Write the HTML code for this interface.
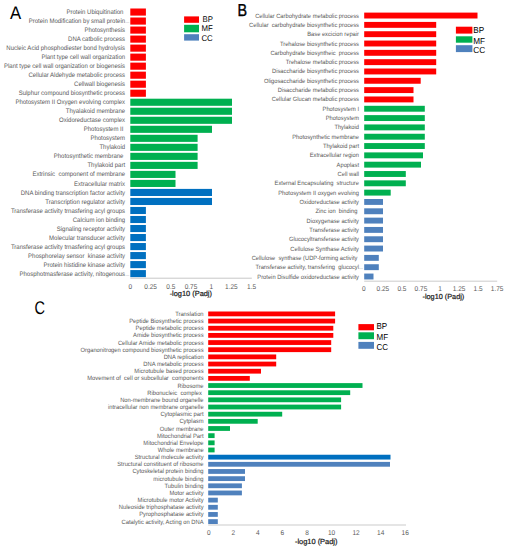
<!DOCTYPE html>
<html><head><meta charset="utf-8"><style>
html,body{margin:0;padding:0;background:#fff;}
body{width:506px;height:550px;overflow:hidden;}
svg{display:block;font-family:"Liberation Sans", sans-serif;text-rendering:geometricPrecision;}
text{white-space:pre;}
.t{}
</style></head><body>
<svg width="506" height="550" viewBox="0 0 506 550" xml:space="preserve">
<rect width="506" height="550" fill="#fff"/>
<rect x="130.30" y="8.50" width="15.60" height="7.10" fill="#FF0000"/>
<text transform="translate(125.10 14.13) scale(1 1.07)" font-size="6.0" text-anchor="end" fill="#595959"  class="t">Protein Ubiquitination </text>
<rect x="130.30" y="17.52" width="15.60" height="7.10" fill="#FF0000"/>
<text transform="translate(125.10 23.15) scale(1 1.07)" font-size="6.0" text-anchor="end" fill="#595959"  class="t">Protein Modification by small protein</text>
<text transform="translate(125.20 23.15) scale(1 1.07)" font-size="4.32" text-anchor="start" fill="#595959"  class="t">…</text>
<rect x="130.30" y="26.54" width="15.60" height="7.10" fill="#FF0000"/>
<text transform="translate(125.10 32.17) scale(1 1.07)" font-size="6.0" text-anchor="end" fill="#595959"  class="t">Photosynthesis</text>
<rect x="130.30" y="35.56" width="15.60" height="7.10" fill="#FF0000"/>
<text transform="translate(125.10 41.19) scale(1 1.07)" font-size="6.0" text-anchor="end" fill="#595959"  class="t">DNA catbolic process</text>
<rect x="130.30" y="44.58" width="15.60" height="7.10" fill="#FF0000"/>
<text transform="translate(125.10 50.21) scale(1 1.07)" font-size="6.0" text-anchor="end" fill="#595959"  class="t">Nucleic Acid phosphodiester bond hydrolysis</text>
<rect x="130.30" y="53.60" width="15.60" height="7.10" fill="#FF0000"/>
<text transform="translate(125.10 59.23) scale(1 1.07)" font-size="6.0" text-anchor="end" fill="#595959"  class="t">Plant type cell wall organization</text>
<rect x="130.30" y="62.62" width="15.60" height="7.10" fill="#FF0000"/>
<text transform="translate(125.10 68.25) scale(1 1.07)" font-size="6.0" text-anchor="end" fill="#595959"  class="t">Plant type cell wall organization or biogenesis</text>
<rect x="130.30" y="71.64" width="15.60" height="7.10" fill="#FF0000"/>
<text transform="translate(125.10 77.27) scale(1 1.07)" font-size="6.0" text-anchor="end" fill="#595959"  class="t">Cellular Aldehyde metabolic process</text>
<rect x="130.30" y="80.66" width="15.60" height="7.10" fill="#FF0000"/>
<text transform="translate(125.10 86.29) scale(1 1.07)" font-size="6.0" text-anchor="end" fill="#595959"  class="t">Cellwall biogenesis</text>
<rect x="130.30" y="89.68" width="15.60" height="7.10" fill="#FF0000"/>
<text transform="translate(125.10 95.31) scale(1 1.07)" font-size="6.0" text-anchor="end" fill="#595959"  class="t">Sulphur compound biosynthetic process</text>
<rect x="130.30" y="98.70" width="101.70" height="7.10" fill="#00B050"/>
<text transform="translate(125.10 104.33) scale(1 1.07)" font-size="6.0" text-anchor="end" fill="#595959"  class="t">Photosystem II Oxygen evolving complex</text>
<rect x="130.30" y="107.72" width="101.70" height="7.10" fill="#00B050"/>
<text transform="translate(125.10 113.35) scale(1 1.07)" font-size="6.0" text-anchor="end" fill="#595959"  class="t">Thyalakoid membrane</text>
<rect x="130.30" y="116.74" width="101.70" height="7.10" fill="#00B050"/>
<text transform="translate(125.10 122.37) scale(1 1.07)" font-size="6.0" text-anchor="end" fill="#595959"  class="t">Oxidoreductase complex</text>
<rect x="130.30" y="125.76" width="81.70" height="7.10" fill="#00B050"/>
<text transform="translate(125.10 131.39) scale(1 1.07)" font-size="6.0" text-anchor="end" fill="#595959"  class="t">Photosystem II </text>
<rect x="130.30" y="134.78" width="67.30" height="7.10" fill="#00B050"/>
<text transform="translate(125.10 140.41) scale(1 1.07)" font-size="6.0" text-anchor="end" fill="#595959"  class="t">Photosystem</text>
<rect x="130.30" y="143.80" width="67.30" height="7.10" fill="#00B050"/>
<text transform="translate(125.10 149.43) scale(1 1.07)" font-size="6.0" text-anchor="end" fill="#595959"  class="t">Thylakoid</text>
<rect x="130.30" y="152.82" width="67.30" height="7.10" fill="#00B050"/>
<text transform="translate(125.10 158.45) scale(1 1.07)" font-size="6.0" text-anchor="end" fill="#595959"  class="t">Photosynthetic membrane </text>
<rect x="130.30" y="161.84" width="67.30" height="7.10" fill="#00B050"/>
<text transform="translate(125.10 167.47) scale(1 1.07)" font-size="6.0" text-anchor="end" fill="#595959"  class="t">Thylakoid part</text>
<rect x="130.30" y="170.86" width="45.20" height="7.10" fill="#00B050"/>
<text transform="translate(125.10 176.49) scale(1 1.07)" font-size="6.0" text-anchor="end" fill="#595959"  class="t">Extrinsic  component of membrane</text>
<rect x="130.30" y="179.88" width="45.20" height="7.10" fill="#00B050"/>
<text transform="translate(125.10 185.51) scale(1 1.07)" font-size="6.0" text-anchor="end" fill="#595959"  class="t">Extracellular matrix</text>
<rect x="130.30" y="188.90" width="81.70" height="7.10" fill="#0070C0"/>
<text transform="translate(125.10 194.53) scale(1 1.07)" font-size="6.0" text-anchor="end" fill="#595959"  class="t">DNA binding transcription factor activity</text>
<rect x="130.30" y="197.92" width="81.70" height="7.10" fill="#0070C0"/>
<text transform="translate(125.10 203.55) scale(1 1.07)" font-size="6.0" text-anchor="end" fill="#595959"  class="t">Transcription regulator activity</text>
<rect x="130.30" y="206.94" width="15.60" height="7.10" fill="#0070C0"/>
<text transform="translate(125.10 212.57) scale(1 1.07)" font-size="6.0" text-anchor="end" fill="#595959"  class="t">Transferase activity trnasfering acyl groups</text>
<rect x="130.30" y="215.96" width="15.60" height="7.10" fill="#0070C0"/>
<text transform="translate(125.10 221.59) scale(1 1.07)" font-size="6.0" text-anchor="end" fill="#595959"  class="t">Calcium ion binding</text>
<rect x="130.30" y="224.98" width="15.60" height="7.10" fill="#0070C0"/>
<text transform="translate(125.10 230.61) scale(1 1.07)" font-size="6.0" text-anchor="end" fill="#595959"  class="t">Signaling receptor activity</text>
<rect x="130.30" y="234.00" width="15.60" height="7.10" fill="#0070C0"/>
<text transform="translate(125.10 239.63) scale(1 1.07)" font-size="6.0" text-anchor="end" fill="#595959"  class="t">Molecular transducer activity</text>
<rect x="130.30" y="243.02" width="15.60" height="7.10" fill="#0070C0"/>
<text transform="translate(125.10 248.65) scale(1 1.07)" font-size="6.0" text-anchor="end" fill="#595959"  class="t">Transferase activity trnasfering acyl groups</text>
<rect x="130.30" y="252.04" width="15.60" height="7.10" fill="#0070C0"/>
<text transform="translate(125.10 257.67) scale(1 1.07)" font-size="6.0" text-anchor="end" fill="#595959"  class="t">Phosphorelay sensor  kinase activity</text>
<rect x="130.30" y="261.06" width="15.60" height="7.10" fill="#0070C0"/>
<text transform="translate(125.10 266.69) scale(1 1.07)" font-size="6.0" text-anchor="end" fill="#595959"  class="t">Protein histidine kinase activity</text>
<rect x="130.30" y="270.08" width="15.60" height="7.10" fill="#0070C0"/>
<text transform="translate(125.10 275.71) scale(1 1.07)" font-size="6.0" text-anchor="end" fill="#595959"  class="t">Phosphotmasferase activity, nitogenous</text>
<text transform="translate(125.20 275.71) scale(1 1.07)" font-size="4.32" text-anchor="start" fill="#595959"  class="t">…</text>
<rect x="130.30" y="277.60" width="121.50" height="1.30" fill="#D4D4D4"/>
<text transform="translate(130.40 288.50) scale(1 1.07)" font-size="6.5" text-anchor="middle" fill="#595959"  class="t">0</text>
<text transform="translate(150.60 288.50) scale(1 1.07)" font-size="6.5" text-anchor="middle" fill="#595959"  class="t">0.25</text>
<text transform="translate(170.80 288.50) scale(1 1.07)" font-size="6.5" text-anchor="middle" fill="#595959"  class="t">0.5</text>
<text transform="translate(191.00 288.50) scale(1 1.07)" font-size="6.5" text-anchor="middle" fill="#595959"  class="t">0.75</text>
<text transform="translate(211.20 288.50) scale(1 1.07)" font-size="6.5" text-anchor="middle" fill="#595959"  class="t">1</text>
<text transform="translate(231.40 288.50) scale(1 1.07)" font-size="6.5" text-anchor="middle" fill="#595959"  class="t">1.25</text>
<text transform="translate(251.60 288.50) scale(1 1.07)" font-size="6.5" text-anchor="middle" fill="#595959"  class="t">1.5</text>
<text transform="translate(190.80 296.30) scale(1 1)" font-size="7.4" text-anchor="middle" fill="#1a1a1a" stroke="#1a1a1a" stroke-width="0.22">-log10 (Padj)</text>
<rect x="364.20" y="12.60" width="113.30" height="5.90" fill="#FF0000"/>
<text transform="translate(359.00 17.54) scale(1 1.07)" font-size="5.75" text-anchor="end" fill="#595959"  class="t">Cellular Carbohydrate metabolic process</text>
<rect x="364.20" y="21.92" width="72.00" height="5.90" fill="#FF0000"/>
<text transform="translate(359.00 26.86) scale(1 1.07)" font-size="5.75" text-anchor="end" fill="#595959"  class="t">Cellular  carbohydrate biosynthetic process</text>
<rect x="364.20" y="31.24" width="72.00" height="5.90" fill="#FF0000"/>
<text transform="translate(359.00 36.18) scale(1 1.07)" font-size="5.75" text-anchor="end" fill="#595959"  class="t">Base excicion repair</text>
<rect x="364.20" y="40.56" width="72.00" height="5.90" fill="#FF0000"/>
<text transform="translate(359.00 45.50) scale(1 1.07)" font-size="5.75" text-anchor="end" fill="#595959"  class="t">Trehalose biosynthetic process</text>
<rect x="364.20" y="49.88" width="72.00" height="5.90" fill="#FF0000"/>
<text transform="translate(359.00 54.82) scale(1 1.07)" font-size="5.75" text-anchor="end" fill="#595959"  class="t">Carbohydrate biosyntheic  process</text>
<rect x="364.20" y="59.20" width="72.00" height="5.90" fill="#FF0000"/>
<text transform="translate(359.00 64.14) scale(1 1.07)" font-size="5.75" text-anchor="end" fill="#595959"  class="t">Trehalose metabolic process</text>
<rect x="364.20" y="68.52" width="72.00" height="5.90" fill="#FF0000"/>
<text transform="translate(359.00 73.46) scale(1 1.07)" font-size="5.75" text-anchor="end" fill="#595959"  class="t">Disaccharide biosynthetic process</text>
<rect x="364.20" y="77.84" width="56.50" height="5.90" fill="#FF0000"/>
<text transform="translate(359.00 82.78) scale(1 1.07)" font-size="5.75" text-anchor="end" fill="#595959"  class="t">Oligosaccharide biosynthetic process</text>
<rect x="364.20" y="87.16" width="49.30" height="5.90" fill="#FF0000"/>
<text transform="translate(359.00 92.10) scale(1 1.07)" font-size="5.75" text-anchor="end" fill="#595959"  class="t">Disaccharide metabolic process</text>
<rect x="364.20" y="96.48" width="49.30" height="5.90" fill="#FF0000"/>
<text transform="translate(359.00 101.42) scale(1 1.07)" font-size="5.75" text-anchor="end" fill="#595959"  class="t">Cellular Glucan metabolic process</text>
<rect x="364.20" y="105.80" width="60.60" height="5.90" fill="#00B050"/>
<text transform="translate(359.00 110.74) scale(1 1.07)" font-size="5.75" text-anchor="end" fill="#595959"  class="t">Photosystem I</text>
<rect x="364.20" y="115.12" width="60.60" height="5.90" fill="#00B050"/>
<text transform="translate(359.00 120.06) scale(1 1.07)" font-size="5.75" text-anchor="end" fill="#595959"  class="t">Photosystem</text>
<rect x="364.20" y="124.44" width="60.60" height="5.90" fill="#00B050"/>
<text transform="translate(359.00 129.38) scale(1 1.07)" font-size="5.75" text-anchor="end" fill="#595959"  class="t">Thylakoid</text>
<rect x="364.20" y="133.76" width="60.60" height="5.90" fill="#00B050"/>
<text transform="translate(359.00 138.70) scale(1 1.07)" font-size="5.75" text-anchor="end" fill="#595959"  class="t">Photosynthetic membrane</text>
<rect x="364.20" y="143.08" width="60.60" height="5.90" fill="#00B050"/>
<text transform="translate(359.00 148.02) scale(1 1.07)" font-size="5.75" text-anchor="end" fill="#595959"  class="t">Thylakoid part</text>
<rect x="364.20" y="152.40" width="58.80" height="5.90" fill="#00B050"/>
<text transform="translate(359.00 157.34) scale(1 1.07)" font-size="5.75" text-anchor="end" fill="#595959"  class="t">Extracellular region</text>
<rect x="364.20" y="161.72" width="56.80" height="5.90" fill="#00B050"/>
<text transform="translate(359.00 166.66) scale(1 1.07)" font-size="5.75" text-anchor="end" fill="#595959"  class="t">Apoplast</text>
<rect x="364.20" y="171.04" width="41.60" height="5.90" fill="#00B050"/>
<text transform="translate(359.00 175.98) scale(1 1.07)" font-size="5.75" text-anchor="end" fill="#595959"  class="t">Cell wall</text>
<rect x="364.20" y="180.36" width="41.60" height="5.90" fill="#00B050"/>
<text transform="translate(359.00 185.30) scale(1 1.07)" font-size="5.75" text-anchor="end" fill="#595959"  class="t">External Encapsulating  structure</text>
<rect x="364.20" y="189.68" width="26.50" height="5.90" fill="#00B050"/>
<text transform="translate(359.00 194.62) scale(1 1.07)" font-size="5.75" text-anchor="end" fill="#595959"  class="t">Photosystem II oxygen evolving</text>
<rect x="364.20" y="199.00" width="18.80" height="5.90" fill="#4F81BD"/>
<text transform="translate(359.00 203.94) scale(1 1.07)" font-size="5.75" text-anchor="end" fill="#595959"  class="t">Oxidoreductase activity</text>
<rect x="364.20" y="208.32" width="18.80" height="5.90" fill="#4F81BD"/>
<text transform="translate(359.00 213.26) scale(1 1.07)" font-size="5.75" text-anchor="end" fill="#595959"  class="t">Zinc ion  binding </text>
<rect x="364.20" y="217.64" width="18.80" height="5.90" fill="#4F81BD"/>
<text transform="translate(359.00 222.58) scale(1 1.07)" font-size="5.75" text-anchor="end" fill="#595959"  class="t">Dioxygenase activity</text>
<rect x="364.20" y="226.96" width="18.80" height="5.90" fill="#4F81BD"/>
<text transform="translate(359.00 231.90) scale(1 1.07)" font-size="5.75" text-anchor="end" fill="#595959"  class="t">Transferase activity</text>
<rect x="364.20" y="236.28" width="18.80" height="5.90" fill="#4F81BD"/>
<text transform="translate(359.00 241.22) scale(1 1.07)" font-size="5.75" text-anchor="end" fill="#595959"  class="t">Glucocyltransferase activity</text>
<rect x="364.20" y="245.60" width="18.80" height="5.90" fill="#4F81BD"/>
<text transform="translate(359.00 250.54) scale(1 1.07)" font-size="5.75" text-anchor="end" fill="#595959"  class="t">Cellulose Synthase Activity</text>
<rect x="364.20" y="254.92" width="14.60" height="5.90" fill="#4F81BD"/>
<text transform="translate(359.00 259.86) scale(1 1.07)" font-size="5.75" text-anchor="end" fill="#595959"  class="t">Cellulose  synthase (UDP-forming activity </text>
<rect x="364.20" y="264.24" width="14.60" height="5.90" fill="#4F81BD"/>
<text transform="translate(359.00 269.18) scale(1 1.07)" font-size="5.75" text-anchor="end" fill="#595959"  class="t">Transferase activity, transfering  glucocyl</text>
<text transform="translate(359.10 269.18) scale(1 1.07)" font-size="4.14" text-anchor="start" fill="#595959"  class="t">…</text>
<rect x="364.20" y="273.56" width="9.30" height="5.90" fill="#4F81BD"/>
<text transform="translate(359.00 278.50) scale(1 1.07)" font-size="5.75" text-anchor="end" fill="#595959"  class="t">Protein Disulfide oxidoreductase activity</text>
<rect x="364.20" y="280.60" width="133.00" height="1.20" fill="#D4D4D4"/>
<text transform="translate(363.80 291.20) scale(1 1.07)" font-size="6.5" text-anchor="middle" fill="#595959"  class="t">0</text>
<text transform="translate(382.85 291.20) scale(1 1.07)" font-size="6.5" text-anchor="middle" fill="#595959"  class="t">0.25</text>
<text transform="translate(401.90 291.20) scale(1 1.07)" font-size="6.5" text-anchor="middle" fill="#595959"  class="t">0.5</text>
<text transform="translate(420.95 291.20) scale(1 1.07)" font-size="6.5" text-anchor="middle" fill="#595959"  class="t">0.75</text>
<text transform="translate(440.00 291.20) scale(1 1.07)" font-size="6.5" text-anchor="middle" fill="#595959"  class="t">1</text>
<text transform="translate(459.05 291.20) scale(1 1.07)" font-size="6.5" text-anchor="middle" fill="#595959"  class="t">1.25</text>
<text transform="translate(478.10 291.20) scale(1 1.07)" font-size="6.5" text-anchor="middle" fill="#595959"  class="t">1.5</text>
<text transform="translate(497.15 291.20) scale(1 1.07)" font-size="6.5" text-anchor="middle" fill="#595959"  class="t">1.75</text>
<text transform="translate(443.40 299.00) scale(1 1)" font-size="7.3" text-anchor="middle" fill="#1a1a1a" stroke="#1a1a1a" stroke-width="0.22">-log10 (Padj)</text>
<rect x="208.20" y="311.50" width="126.90" height="4.80" fill="#FF0000"/>
<text transform="translate(203.60 315.91) scale(1 1.07)" font-size="5.8" text-anchor="end" fill="#595959"  class="t">Translation</text>
<rect x="208.20" y="318.66" width="126.90" height="4.80" fill="#FF0000"/>
<text transform="translate(203.60 323.07) scale(1 1.07)" font-size="5.8" text-anchor="end" fill="#595959"  class="t">Peptide Biosynthetic process</text>
<rect x="208.20" y="325.82" width="125.10" height="4.80" fill="#FF0000"/>
<text transform="translate(203.60 330.23) scale(1 1.07)" font-size="5.8" text-anchor="end" fill="#595959"  class="t">Peptide metabolic process</text>
<rect x="208.20" y="332.99" width="125.10" height="4.80" fill="#FF0000"/>
<text transform="translate(203.60 337.40) scale(1 1.07)" font-size="5.8" text-anchor="end" fill="#595959"  class="t">Amide biosynthetic process</text>
<rect x="208.20" y="340.15" width="123.00" height="4.80" fill="#FF0000"/>
<text transform="translate(203.60 344.56) scale(1 1.07)" font-size="5.8" text-anchor="end" fill="#595959"  class="t">Cellular Amide metabolic process</text>
<rect x="208.20" y="347.31" width="123.00" height="4.80" fill="#FF0000"/>
<text transform="translate(203.60 351.72) scale(1 1.07)" font-size="5.8" text-anchor="end" fill="#595959"  class="t">Organonitrogen compound biosynthetic process</text>
<rect x="208.20" y="354.47" width="68.00" height="4.80" fill="#FF0000"/>
<text transform="translate(203.60 358.88) scale(1 1.07)" font-size="5.8" text-anchor="end" fill="#595959"  class="t">DNA replication</text>
<rect x="208.20" y="361.63" width="68.00" height="4.80" fill="#FF0000"/>
<text transform="translate(203.60 366.04) scale(1 1.07)" font-size="5.8" text-anchor="end" fill="#595959"  class="t">DNA metabolic process</text>
<rect x="208.20" y="368.80" width="52.80" height="4.80" fill="#FF0000"/>
<text transform="translate(203.60 373.21) scale(1 1.07)" font-size="5.8" text-anchor="end" fill="#595959"  class="t">Microtubule based process</text>
<rect x="208.20" y="375.96" width="41.60" height="4.80" fill="#FF0000"/>
<text transform="translate(203.60 380.37) scale(1 1.07)" font-size="5.8" text-anchor="end" fill="#595959"  class="t">Movement of  cell or subcellular  components</text>
<rect x="208.20" y="383.12" width="154.30" height="4.80" fill="#00B050"/>
<text transform="translate(203.60 387.53) scale(1 1.07)" font-size="5.8" text-anchor="end" fill="#595959"  class="t">Ribosome</text>
<rect x="208.20" y="390.28" width="142.00" height="4.80" fill="#00B050"/>
<text transform="translate(203.60 394.69) scale(1 1.07)" font-size="5.8" text-anchor="end" fill="#595959"  class="t">Ribonucleic  complex </text>
<rect x="208.20" y="397.44" width="132.90" height="4.80" fill="#00B050"/>
<text transform="translate(203.60 401.85) scale(1 1.07)" font-size="5.8" text-anchor="end" fill="#595959"  class="t">Non-membrane bound organelle</text>
<rect x="208.20" y="404.61" width="132.90" height="4.80" fill="#00B050"/>
<text transform="translate(203.60 409.02) scale(1 1.07)" font-size="5.8" text-anchor="end" fill="#595959"  class="t">intracellular non membrane organelle</text>
<rect x="208.20" y="411.77" width="74.00" height="4.80" fill="#00B050"/>
<text transform="translate(203.60 416.18) scale(1 1.07)" font-size="5.8" text-anchor="end" fill="#595959"  class="t">Cytoplasmic part</text>
<rect x="208.20" y="418.93" width="49.50" height="4.80" fill="#00B050"/>
<text transform="translate(203.60 423.34) scale(1 1.07)" font-size="5.8" text-anchor="end" fill="#595959"  class="t">Cytplasm</text>
<rect x="208.20" y="426.09" width="21.80" height="4.80" fill="#00B050"/>
<text transform="translate(203.60 430.50) scale(1 1.07)" font-size="5.8" text-anchor="end" fill="#595959"  class="t">Outer membrane</text>
<rect x="208.20" y="433.25" width="6.40" height="4.80" fill="#00B050"/>
<text transform="translate(203.60 437.66) scale(1 1.07)" font-size="5.8" text-anchor="end" fill="#595959"  class="t">Mitochondrial Part</text>
<rect x="208.20" y="440.42" width="6.40" height="4.80" fill="#00B050"/>
<text transform="translate(203.60 444.83) scale(1 1.07)" font-size="5.8" text-anchor="end" fill="#595959"  class="t">Mitochondrial Envelope</text>
<rect x="208.20" y="447.58" width="6.40" height="4.80" fill="#00B050"/>
<text transform="translate(203.60 451.99) scale(1 1.07)" font-size="5.8" text-anchor="end" fill="#595959"  class="t">Whole membrane</text>
<rect x="208.20" y="454.74" width="182.30" height="4.80" fill="#0070C0"/>
<text transform="translate(203.60 459.15) scale(1 1.07)" font-size="5.8" text-anchor="end" fill="#595959"  class="t">Structural molecule activity</text>
<rect x="208.20" y="461.90" width="181.80" height="4.80" fill="#4F81BD"/>
<text transform="translate(203.60 466.31) scale(1 1.07)" font-size="5.8" text-anchor="end" fill="#595959"  class="t">Structural constituent of ribosome</text>
<rect x="208.20" y="469.06" width="36.80" height="4.80" fill="#4F81BD"/>
<text transform="translate(203.60 473.47) scale(1 1.07)" font-size="5.8" text-anchor="end" fill="#595959"  class="t">Cytoskeletal protein binding</text>
<rect x="208.20" y="476.23" width="36.80" height="4.80" fill="#4F81BD"/>
<text transform="translate(203.60 480.64) scale(1 1.07)" font-size="5.8" text-anchor="end" fill="#595959"  class="t">microtubule binding</text>
<rect x="208.20" y="483.39" width="33.70" height="4.80" fill="#4F81BD"/>
<text transform="translate(203.60 487.80) scale(1 1.07)" font-size="5.8" text-anchor="end" fill="#595959"  class="t">Tubulin binding</text>
<rect x="208.20" y="490.55" width="33.70" height="4.80" fill="#4F81BD"/>
<text transform="translate(203.60 494.96) scale(1 1.07)" font-size="5.8" text-anchor="end" fill="#595959"  class="t">Motor activity</text>
<rect x="208.20" y="497.71" width="9.60" height="4.80" fill="#4F81BD"/>
<text transform="translate(203.60 502.12) scale(1 1.07)" font-size="5.8" text-anchor="end" fill="#595959"  class="t">Microtubule motor Activity</text>
<rect x="208.20" y="504.87" width="9.60" height="4.80" fill="#4F81BD"/>
<text transform="translate(203.60 509.28) scale(1 1.07)" font-size="5.8" text-anchor="end" fill="#595959"  class="t">Nuleoside triphosphatase activity</text>
<rect x="208.20" y="512.04" width="9.60" height="4.80" fill="#4F81BD"/>
<text transform="translate(203.60 516.45) scale(1 1.07)" font-size="5.8" text-anchor="end" fill="#595959"  class="t">Pyrophosphatase activity</text>
<rect x="208.20" y="519.20" width="9.60" height="4.80" fill="#4F81BD"/>
<text transform="translate(203.60 523.61) scale(1 1.07)" font-size="5.8" text-anchor="end" fill="#595959"  class="t">Catalytic activity, Acting on DNA</text>
<rect x="208.20" y="524.40" width="197.80" height="1.20" fill="#D4D4D4"/>
<text transform="translate(208.70 534.90) scale(1 1.07)" font-size="6.5" text-anchor="middle" fill="#595959"  class="t">0</text>
<text transform="translate(233.26 534.90) scale(1 1.07)" font-size="6.5" text-anchor="middle" fill="#595959"  class="t">2</text>
<text transform="translate(257.82 534.90) scale(1 1.07)" font-size="6.5" text-anchor="middle" fill="#595959"  class="t">4</text>
<text transform="translate(282.38 534.90) scale(1 1.07)" font-size="6.5" text-anchor="middle" fill="#595959"  class="t">6</text>
<text transform="translate(306.94 534.90) scale(1 1.07)" font-size="6.5" text-anchor="middle" fill="#595959"  class="t">8</text>
<text transform="translate(331.50 534.90) scale(1 1.07)" font-size="6.5" text-anchor="middle" fill="#595959"  class="t">10</text>
<text transform="translate(356.06 534.90) scale(1 1.07)" font-size="6.5" text-anchor="middle" fill="#595959"  class="t">12</text>
<text transform="translate(380.62 534.90) scale(1 1.07)" font-size="6.5" text-anchor="middle" fill="#595959"  class="t">14</text>
<text transform="translate(405.18 534.90) scale(1 1.07)" font-size="6.5" text-anchor="middle" fill="#595959"  class="t">16</text>
<text transform="translate(316.20 543.80) scale(1 1)" font-size="7.45" text-anchor="middle" fill="#1a1a1a" stroke="#1a1a1a" stroke-width="0.22">-log10 (Padj)</text>
<rect x="184.10" y="16.40" width="14.90" height="6.40" fill="#FF0000"/>
<rect x="184.10" y="24.80" width="14.90" height="7.50" fill="#00B050"/>
<rect x="184.10" y="34.20" width="14.90" height="6.40" fill="#4F81BD"/>
<text transform="translate(202.60 22.40) scale(1 1.07)" font-size="7.8" text-anchor="start" fill="#000" >BP</text>
<text transform="translate(201.60 31.30) scale(1 1.07)" font-size="7.8" text-anchor="start" fill="#000" >MF</text>
<text transform="translate(201.40 40.50) scale(1 1.07)" font-size="7.8" text-anchor="start" fill="#000" >CC</text>
<rect x="455.90" y="26.70" width="16.50" height="6.90" fill="#FF0000"/>
<rect x="455.90" y="36.30" width="16.50" height="6.40" fill="#00B050"/>
<rect x="455.90" y="45.20" width="16.50" height="6.90" fill="#4F81BD"/>
<text transform="translate(473.30 33.30) scale(1 1.07)" font-size="8.2" text-anchor="start" fill="#000" >BP</text>
<text transform="translate(473.30 43.60) scale(1 1.07)" font-size="8.2" text-anchor="start" fill="#000" >MF</text>
<text transform="translate(473.30 53.40) scale(1 1.07)" font-size="8.2" text-anchor="start" fill="#000" >CC</text>
<rect x="358.40" y="324.10" width="15.60" height="6.20" fill="#FF0000"/>
<rect x="358.40" y="332.30" width="15.60" height="6.90" fill="#00B050"/>
<rect x="358.40" y="341.90" width="15.60" height="6.90" fill="#4F81BD"/>
<text transform="translate(376.50 329.40) scale(1 1.07)" font-size="8.0" text-anchor="start" fill="#000" >BP</text>
<text transform="translate(376.50 339.60) scale(1 1.07)" font-size="8.0" text-anchor="start" fill="#000" >MF</text>
<text transform="translate(376.50 349.50) scale(1 1.07)" font-size="8.0" text-anchor="start" fill="#000" >CC</text>
<text transform="translate(9.90 18.80) scale(0.93 1)" font-size="18" text-anchor="start" fill="#000" >A</text>
<text transform="translate(237.40 16.20) scale(0.83 1)" font-size="17.3" text-anchor="start" fill="#000" stroke="#000" stroke-width="0.4">B</text>
<text transform="translate(34.50 313.90) scale(0.79 1)" font-size="18.4" text-anchor="start" fill="#000" >C</text>
</svg>
</body></html>
